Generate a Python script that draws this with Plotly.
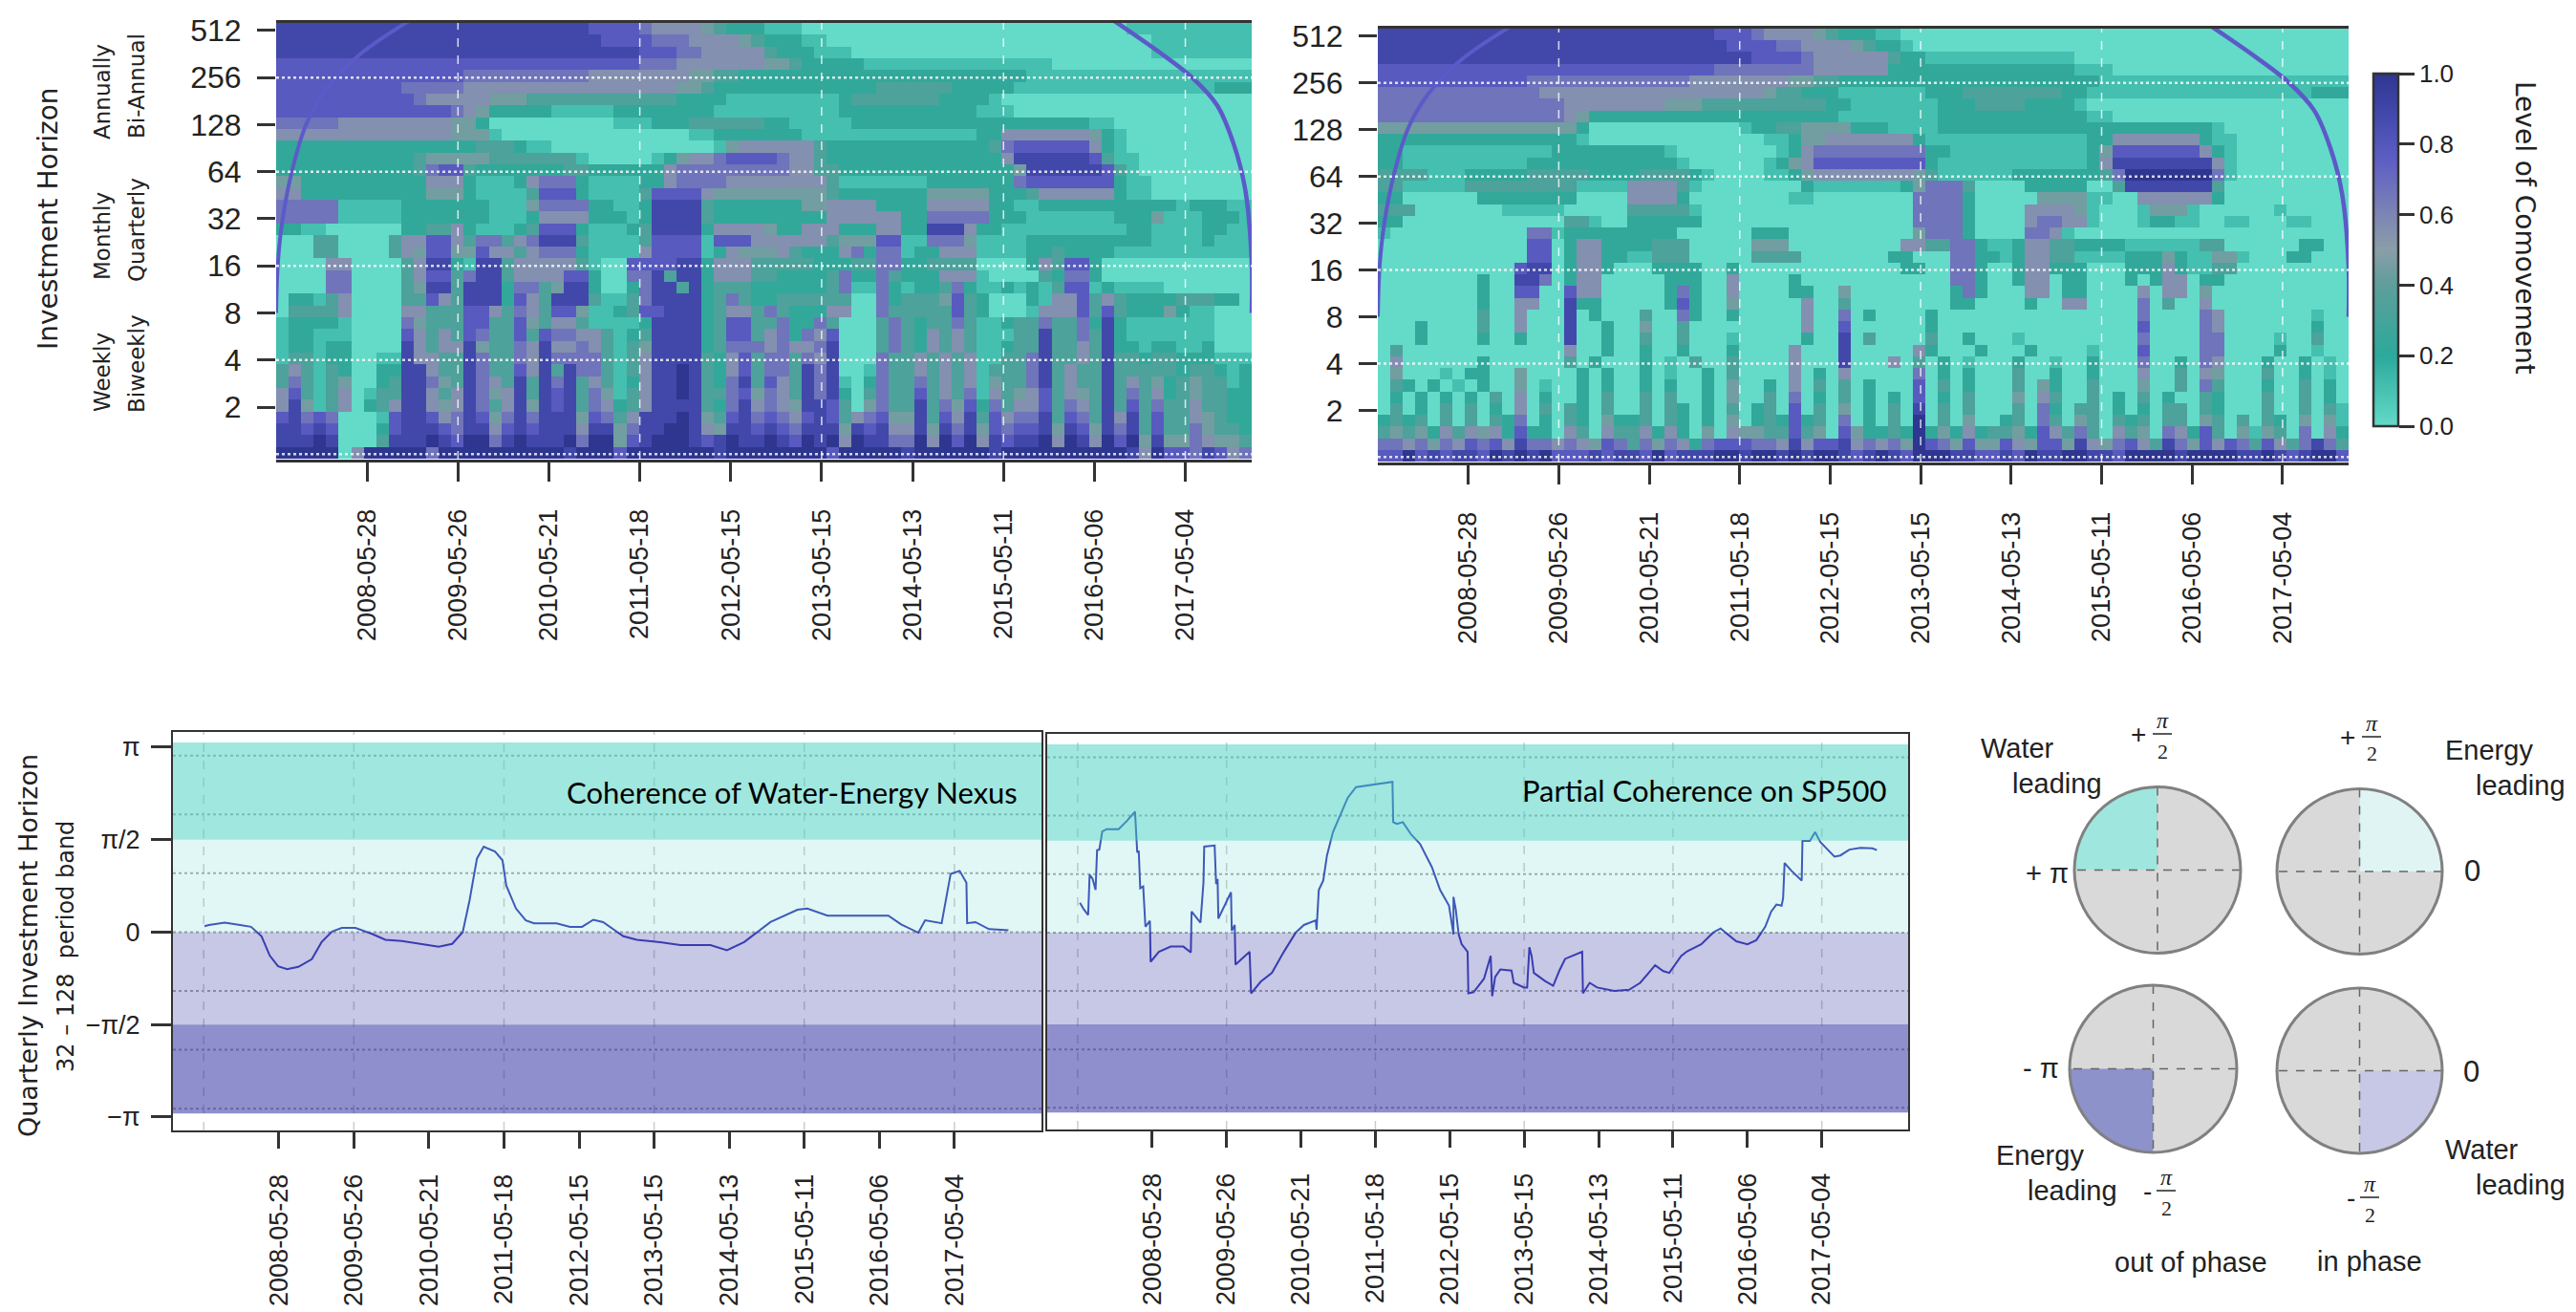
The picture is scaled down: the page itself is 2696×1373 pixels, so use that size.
import numpy as np
import plotly.graph_objects as go
from plotly.subplots import make_subplots

W, H = 2696, 1373

TICK_POS = [1, 2, 3, 4, 5, 6, 7, 8, 9, 10]
TICK_LABELS = ['2008-05-28', '2009-05-26', '2010-05-21', '2011-05-18', '2012-05-15',
               '2013-05-15', '2014-05-13', '2015-05-11', '2016-05-06', '2017-05-04']
PERIOD_LOG2 = [1, 2, 3, 4, 5, 6, 7, 8, 9]
PERIOD_LABELS = ['2', '4', '8', '16', '32', '64', '128', '256', '512']
PHASE_LABELS = ['\u2212\u03c0', '\u2212\u03c0/2', '0', '\u03c0/2', '\u03c0']

# coherence, tenths-ish (digit / 9), top row first in blocks of 10 columns
COHERENCE_ROWS = [
    '8888888888 8888888888 8888877776 5555432221 1100000000 0000000000 0000000011 11111111',
    '8888888888 8888888888 8888887777 6665555432 2211000000 0000000000 0000000000 11111111',
    '8888888888 8888888888 8888888887 7766555553 2221110000 0000000000 0000000000 11111111',
    '7777777777 7777777777 7777777776 6655555554 4322222111 1111111111 1100000000 00000000',
    '7777777777 7777766666 6666655555 5554433222 2222222222 2222222222 1111111111 11111111',
    '7777777777 6666655555 5555555555 5544322222 2222222233 3333222221 1111111111 11111222',
    '7777777777 7655555444 3333333333 3322221111 1111123333 3332222100 0000000000 00000000',
    '7777777777 7777654222 2211111222 2222211111 1111122222 2222221110 0000000000 00000000',
    '6666655555 5555442000 0000000111 2223333332 2111112222 2222222222 2222211000 00000000',
    '5555555555 5555444100 0000000000 0001122222 2211111111 1111112255 5555542100 00000000',
    '2222222222 2222223332 1100000000 0000014555 5553222222 2222222367 7777752100 00000000',
    '2222222222 2344444333 3333100000 1245567777 6553222222 2222222258 8888873110 00000000',
    '2222222222 2367732222 2223322222 2566666666 6553322222 2222222224 8888887310 00000000',
    '4422222222 2255521112 5666211112 2566665555 5555311111 1122222226 7777777211 00000000',
    '5522222222 2244421111 3777211113 7777544444 4444322222 2244444222 3555555211 00000000',
    '6666611111 2222222111 4666622112 8888322222 2244555522 2255555221 1222222222 22122211',
    '6666611111 2222222111 2555522212 8888322222 2222555555 2266666222 1111111222 41112221',
    '2211000000 2233521112 3777211123 8888255554 2255522255 2288852211 1111111122 11112211',
    '0003300003 5577536635 6888311113 7777177755 5555344477 1166641111 2222222222 11112111',
    '0003300003 5477447553 5666211115 7777125444 5322256266 1225551111 2232222111 11111111',
    '0000550000 3588218835 5555310077 7788255533 3332223366 2233330000 2537720000 00000000',
    '0000660000 3577368835 5557720066 8388255533 2222362263 2225551000 0326620000 00000000',
    '0000660000 3488388826 6348820026 8838233322 2222361162 1223621121 2137712111 10000000',
    '0221350000 3375388827 5388831136 8888236322 3333330062 3334732000 2155735322 22333220',
    '0333350000 5533377536 5377411237 7888235536 3222550063 3333732000 1555737322 24211000',
    '1222210000 6433377337 4355311112 8888237733 6226300036 3233631123 3633628211 11111000',
    '1221110000 7535376337 3766553123 8888237735 6265700036 3253531113 3833638211 11111000',
    '1221220000 8535584336 5855653134 8888236665 6556800036 3253531123 3833538221 22112000',
    '1331220011 8553386336 5866663135 8888325736 6365800063 3535351133 6833538332 33222111',
    '3531320022 8853386337 5838663135 8898325736 6386800163 3535351333 6835338333 33233212',
    '3631340023 8864386538 3868353125 8898326837 5386810263 3635351433 6835338353 42343312',
    '5731350133 8853586458 3878364135 8898336746 5386820363 3735361534 5735438363 52343322',
    '5841350235 8854586358 4878365235 8888326856 5488730463 3836472635 5736538373 63353322',
    '7867600017 8875687468 6888476358 8898437867 6578735674 4837583756 6837638583 73354322',
    '8878700027 8887688578 7888588468 8998548878 7688848785 5848684767 7848748683 73364332',
    '8889800038 8898799689 8889699478 9998789889 8798959886 6959795878 8959859794 84465443',
    '9999905999 9969999999 9998999799 9999989999 9999799999 8999999899 9999999985 97768756',
]

PARTIAL_ROWS = [
    '8888888888 8888888888 8888888777 6555543222 1100000000 0000000000 0000000000 00000000',
    '8888888888 8888888888 8888888877 7766555543 2210000000 0000000000 0000000000 00000000',
    '8888888888 8888888888 8888888888 7777655555 5322111111 1111110000 0000000000 00000000',
    '7777777777 7777777777 7777777666 6666655555 5222222222 2222221110 0000000000 00000000',
    '7777777777 7766666666 6666655555 5554433222 2222222222 2222222211 1111111111 11111111',
    '6666666666 6665555555 5555555555 5433222111 1111222333 3333322111 1111111111 11111222',
    '6666666666 6666655555 5554443333 3333332211 1111122233 3322221000 0000000000 00000000',
    '6666666666 6666654222 2222222222 2222222111 1111122222 2222222110 0000000000 00000000',
    '4444444444 4444442000 0000000001 2233444422 2111122222 2222222222 2222222100 00000000',
    '2222222222 2222221000 0000000000 0112445555 5552111111 1111111225 5555552110 00000000',
    '2211111111 1111222222 2221000000 0012566666 6666221111 1111111247 7777775210 00000000',
    '2211111111 1122222222 2222100000 0124577777 7777211111 1111111258 8888888510 00000000',
    '3333111222 2233333222 2333321000 0112455555 5554311111 1222222236 9999999610 00000000',
    '3311111333 3333331111 5555310000 0000211111 1124666300 0022222003 8888888300 00000000',
    '2200000022 2222220000 5555200000 0001100000 0006666200 0004444110 0555555200 00000000',
    '3330000000 1111100000 3333310000 0000000000 0006666200 0055554100 0144410000 00100000',
    '2200000000 0000033100 2222220000 0000000000 0006666200 0056655100 0122110011 00011000',
    '1000000000 0066122222 2222000000 2220000000 0004666200 0066510000 0000000000 00000000',
    '0000000000 0077025522 2233300000 4440000000 0055336621 1255332222 1111113300 00002200',
    '0000000000 0077025522 1133300000 3333000000 0220006622 1255331111 2224211441 00022000',
    '0000000000 0788025520 0022220020 0000000000 0022006620 0255222000 2225211330 00000000',
    '0000000020 0886025500 0002220050 0002000000 0000006620 0255022000 2025502200 00000000',
    '0000000020 0770075500 0002620050 0002200400 0000002620 0055022000 0505504000 00000000',
    '0000000020 0550082200 0002720040 0000500300 0000002200 0020055000 0603005000 00000000',
    '0000000030 0500080200 0300620020 0000500602 0000200000 0000000000 0600006500 00000100',
    '0002000030 0500080020 0400300000 0000500700 0000200000 0000000000 0700006500 00000200',
    '0002000020 0200080020 0300300010 0000200803 0000300200 0100000000 0600006600 00100300',
    '0300000000 0000050020 0200200020 0005000800 0005200020 0020000100 0700006600 00200100',
    '0500000020 0000030200 0201030030 0005000800 0503020100 0200100200 0600206500 02002010',
    '0400010220 0400002020 0201002030 0005020500 0006020200 0300200200 0500305400 03002010',
    '0320201020 0401002020 0202002040 0205030302 0007030200 0304200300 0400306300 02003020',
    '0202020203 0502002030 0303002040 0306020302 0207020300 0405300302 0302003200 03003020',
    '0302030302 0503032030 0303202030 2307030402 0308030300 0306203302 0203303200 03003031',
    '2323030303 2602032042 2303202040 2327230602 0309030400 2306304303 2303304303 03204041',
    '3434253545 2722053053 3525204054 4337340742 2329242523 3427536305 3406527304 14306052',
    '6656465767 5866565476 3646526777 6658577856 5649764744 7547748546 7538647576 37536863',
    '7797878879 8989777878 8797888998 9989899878 9879998877 8798899887 9999899998 89878997',
]

COI_LEFT_T = [0.0, 0.02, 0.07, 0.18, 0.34, 0.56, 0.92, 1.46]
COI_LEFT_LOG2 = [3.0, 4.08, 4.98, 6.06, 7.05, 7.77, 8.49, 9.2]
COI_RIGHT_T = [9.22, 9.72, 10.08, 10.35, 10.53, 10.66, 10.73, 10.73]
COI_RIGHT_LOG2 = [9.2, 8.53, 7.99, 7.41, 6.6, 5.61, 4.08, 3.0]

NEXUS_T = [0.01, 0.07, 0.28, 0.46, 0.63, 0.77, 0.88, 0.99, 1.11, 1.26, 1.44, 1.57, 1.71, 1.84, 2.02,
           2.24, 2.42, 2.64, 2.91, 3.13, 3.31, 3.45, 3.54, 3.64, 3.73, 3.88, 3.98, 4.03, 4.16, 4.29,
           4.40, 4.70, 4.88, 5.04, 5.19, 5.32, 5.59, 5.77, 6.08, 6.35, 6.75, 6.97, 7.20, 7.55, 7.91,
           8.04, 8.31, 9.12, 9.29, 9.52, 9.61, 9.83, 9.95, 10.07, 10.16, 10.17, 10.28, 10.46, 10.72]
NEXUS_PHASE = [0.10, 0.12, 0.16, 0.13, 0.09, -0.07, -0.40, -0.58, -0.63, -0.59, -0.46, -0.17, 0.01, 0.07, 0.07,
               -0.03, -0.13, -0.15, -0.20, -0.25, -0.20, 0.00, 0.53, 1.25, 1.45, 1.37, 1.22, 0.79, 0.40, 0.20,
               0.15, 0.15, 0.09, 0.09, 0.21, 0.17, -0.07, -0.13, -0.17, -0.22, -0.22, -0.31, -0.17, 0.17, 0.38,
               0.40, 0.28, 0.28, 0.13, -0.01, 0.20, 0.15, 0.99, 1.04, 0.84, 0.15, 0.17, 0.05, 0.03]

PARTIAL_T = [0.03, 0.08, 0.14, 0.16, 0.20, 0.24, 0.26, 0.29, 0.33, 0.39, 0.55, 0.66, 0.77, 0.80, 0.82, 0.84,
             0.88, 0.91, 0.97, 0.98, 1.09, 1.25, 1.42, 1.52, 1.53, 1.65, 1.69, 1.70, 1.84, 1.86, 1.88, 1.89,
             2.06, 2.07, 2.11, 2.12, 2.31, 2.33, 2.46, 2.61, 2.77, 2.93, 3.04, 3.20, 3.21, 3.24, 3.30, 3.35,
             3.43, 3.63, 3.74, 3.98, 4.23, 4.24, 4.29, 4.37, 4.48, 4.60, 4.76, 4.87, 4.99, 5.05, 5.05, 5.08,
             5.12, 5.16, 5.24, 5.25, 5.32, 5.46, 5.55, 5.57, 5.61, 5.68, 5.83, 5.86, 6.00, 6.04, 6.07, 6.10,
             6.13, 6.28, 6.39, 6.47, 6.55, 6.78, 6.79, 6.88, 6.98, 7.21, 7.41, 7.56, 7.76, 7.87, 7.95, 8.11,
             8.19, 8.38, 8.54, 8.64, 8.73, 8.85, 9.00, 9.12, 9.24, 9.32, 9.39, 9.46, 9.48, 9.50, 9.59, 9.73,
             9.74, 9.84, 9.91, 9.98, 10.17, 10.25, 10.37, 10.52, 10.68, 10.74]
PARTIAL_PHASE = [0.51, 0.40, 0.30, 0.99, 0.92, 0.73, 1.41, 1.42, 1.73, 1.77, 1.77, 1.91, 2.07, 1.37, 1.40, 0.76,
                 0.79, 0.10, 0.20, -0.50, -0.33, -0.24, -0.24, -0.34, 0.36, 0.17, 0.86, 1.47, 1.49, 0.83, 0.92, 0.24,
                 0.69, 0.03, 0.13, -0.55, -0.33, -1.04, -0.84, -0.69, -0.33, 0.00, 0.13, 0.21, 0.05, 0.73, 0.89, 1.32,
                 1.72, 2.31, 2.49, 2.54, 2.58, 1.89, 1.86, 1.89, 1.68, 1.52, 1.12, 0.73, 0.46, -0.03, 0.61, 0.40,
                 -0.03, -0.20, -0.33, -1.04, -1.02, -0.79, -0.40, -1.09, -0.76, -0.63, -0.65, -0.86, -0.94, -0.94, -0.25, -0.40,
                 -0.69, -0.83, -0.91, -0.66, -0.45, -0.33, -1.04, -0.86, -0.94, -1.00, -0.98, -0.86, -0.56, -0.66, -0.69, -0.40,
                 -0.32, -0.20, 0.00, 0.07, -0.03, -0.15, -0.20, -0.13, 0.10, 0.36, 0.48, 0.46, 0.59, 1.19, 1.06, 0.89,
                 1.57, 1.57, 1.72, 1.55, 1.30, 1.32, 1.42, 1.45, 1.44, 1.41]

COMOVE_SCALE = [[0.0, '#64DAC8'], [0.2, '#2CA99B'], [0.4, '#5E9E9B'], [0.5, '#8A9EA8'], [0.6, '#7D85B4'],
                [0.75, '#5E5FC4'], [0.9, '#3F46A8'], [1.0, '#2E3690']]
SANS = 'Liberation Sans'
WIDE = 'DejaVu Sans'
INK = '#222222'


def fx(px):
    return px / W


def fy(py):
    return 1 - py / H


def decode(rows):
    grid = [[int(c) / 9 for c in r.replace(' ', '')] for r in rows]
    return grid[::-1]


fig = make_subplots(rows=2, cols=2)

cells = [(1, 1, 289, 1310, 24, 481), (1, 2, 1442, 2458, 30, 484), (2, 1, 181, 1090, 766, 1183), (2, 2, 1096, 1997, 768, 1182)]
for row, col, x0, x1, y0, y1 in cells:
    fig.update_xaxes(domain=[fx(x0), fx(x1)], row=row, col=col)
    fig.update_yaxes(domain=[fy(y1), fy(y0)], row=row, col=col)

# top: wavelet coherence
for col, rows_data in ((1, COHERENCE_ROWS), (2, PARTIAL_ROWS)):
    z = decode(rows_data)
    n_cols = len(z[0])
    dt = 10.73 / n_cols
    fig.add_trace(go.Heatmap(
        z=z,
        x=(np.arange(n_cols) + 0.5) * dt,
        y=9.035 - 0.25 * np.arange(len(z))[::-1],
        zmin=0, zmax=1,
        zsmooth=False,
        colorscale=COMOVE_SCALE,
        showscale=col == 2,
        colorbar=dict(
            x=fx(2484), xanchor='left', xpad=0, ypad=0,
            y=fy(446), yanchor='bottom', len=(446 - 77) / H,
            thickness=26, thicknessmode='pixels',
            tickvals=[0, 0.2, 0.4, 0.6, 0.8, 1.0], ticktext=['0.0', '0.2', '0.4', '0.6', '0.8', '1.0'],
            ticks='outside', ticklen=16, tickwidth=2.5, tickcolor='#333333',
            tickfont=dict(family=SANS, size=26, color=INK),
            outlinecolor='#333333', outlinewidth=2.5,
        ),
    ), row=1, col=col)
    fig.add_trace(go.Scatter(x=COI_LEFT_T, y=COI_LEFT_LOG2, mode='lines', showlegend=False,
                             line=dict(color='#5C5AC8', width=4, shape='spline')), row=1, col=col)
    fig.add_trace(go.Scatter(x=COI_RIGHT_T, y=COI_RIGHT_LOG2, mode='lines', showlegend=False,
                             line=dict(color='#5C5AC8', width=4.5, shape='spline')), row=1, col=col)
    fig.update_xaxes(range=[0, 10.73], tickmode='array', tickvals=TICK_POS, ticktext=TICK_LABELS,
                     tickangle=-90, ticks='outside', ticklen=20, tickwidth=2.5, tickcolor='#333333',
                     tickfont=dict(family=SANS, size=27, color=INK), ticklabelstandoff=18,
                     showgrid=False, zeroline=False, showline=True, mirror=True,
                     linecolor='#333333', linewidth=3, row=1, col=col)
    fig.update_yaxes(range=[-0.115, 9.16], tickmode='array', tickvals=PERIOD_LOG2, ticktext=PERIOD_LABELS,
                     ticks='outside', ticklen=19, tickwidth=2.5, tickcolor='#333333',
                     tickfont=dict(family=SANS, size=32, color=INK), ticklabelstandoff=10,
                     showgrid=False, zeroline=False, showline=False, row=1, col=col)
    for k in (0, 2, 4, 6, 8):
        fig.add_hline(y=k, line=dict(color='rgba(255,255,255,0.8)', width=2.5, dash='dot'), row=1, col=col)
    for k in (2, 4, 6, 8, 10):
        fig.add_vline(x=k, line=dict(color='rgba(255,255,255,0.8)', width=1.5, dash='dash'), row=1, col=col)

# bottom: phase over the 32-128 band
BAND_EDGES = [3.22, np.pi / 2, 0, -np.pi / 2, -3.08]
BAND_COLORS = ['rgba(64,208,192,0.5)', 'rgba(64,208,192,0.16)', 'rgba(40,40,160,0.26)', 'rgba(40,40,160,0.52)']
for col, t, phase in ((1, NEXUS_T, NEXUS_PHASE), (2, PARTIAL_T, PARTIAL_PHASE)):
    fig.add_trace(go.Scatter(x=t, y=phase, mode='lines', showlegend=False,
                             line=dict(color='#3F45B8', width=2)), row=2, col=col)
    fig.update_xaxes(range=[-0.41, 11.16], tickmode='array', tickvals=TICK_POS, ticktext=TICK_LABELS,
                     tickangle=-90, ticks='outside', ticklen=17, tickwidth=2.5, tickcolor='#333333',
                     tickfont=dict(family=SANS, size=27, color=INK), ticklabelstandoff=16,
                     showgrid=False, zeroline=False, showline=True, mirror=True,
                     linecolor='#333333', linewidth=2, row=2, col=col)
    fig.update_yaxes(range=[-3.37, 3.40], showgrid=False, zeroline=False, showline=True, mirror=True,
                     linecolor='#333333', linewidth=2, row=2, col=col)
    for k in (-3, -2, -1, 0, 1, 2, 3):
        fig.add_hline(y=k, layer='below', line=dict(color='#aaaaaa', width=2, dash='dot'), row=2, col=col)
    for k in (0, 2, 4, 6, 8, 10):
        fig.add_vline(x=k, layer='below', line=dict(color='#cccccc', width=1.5, dash='dash'), row=2, col=col)
    for i, c in enumerate(BAND_COLORS):
        fig.add_hrect(y0=BAND_EDGES[i + 1], y1=BAND_EDGES[i], fillcolor=c, line_width=0, layer='above', row=2, col=col)
fig.update_yaxes(tickmode='array', tickvals=[-np.pi, -np.pi / 2, 0, np.pi / 2, np.pi], ticktext=PHASE_LABELS,
                 ticks='outside', ticklen=21, tickwidth=2.5, tickcolor='#333333',
                 tickfont=dict(family=SANS, size=27, color=INK), ticklabelstandoff=6, row=2, col=1)
fig.update_yaxes(showticklabels=False, ticks='', row=2, col=2)

# phase quadrant key
QUADRANTS = [
    ('polar', (2171, 2345, 821, 1000), ['#D9D9D9', '#9FE6DE', '#D9D9D9', '#D9D9D9']),
    ('polar2', (2383, 2556, 823, 1001), ['#E0F5F3', '#D9D9D9', '#D9D9D9', '#D9D9D9']),
    ('polar3', (2166, 2341, 1030, 1207), ['#D9D9D9', '#D9D9D9', '#8E92CA', '#D9D9D9']),
    ('polar4', (2383, 2556, 1032, 1209), ['#D9D9D9', '#D9D9D9', '#D9D9D9', '#C6C8E6']),
]
for name, (x0, x1, y0, y1), colors in QUADRANTS:
    fig.add_trace(go.Barpolar(r=[1, 1, 1, 1], theta=[45, 135, 225, 315], width=[90, 90, 90, 90],
                              marker=dict(color=colors, line=dict(width=0)), subplot=name, showlegend=False))
    fig.add_trace(go.Scatterpolar(r=[1, 0, 1, None, 1, 0, 1], theta=[0, 0, 180, None, 90, 90, 270], mode='lines',
                                  line=dict(color='#666666', width=1.5, dash='dash'), subplot=name, showlegend=False))
    fig.update_layout({name: dict(
        domain=dict(x=[fx(x0), fx(x1)], y=[fy(y1), fy(y0)]),
        bgcolor='#D9D9D9',
        radialaxis=dict(visible=False, range=[0, 1]),
        angularaxis=dict(showgrid=False, showticklabels=False, ticks='', showline=True,
                         linecolor='#808080', linewidth=3),
    )})


def label(text, x, y, size=29, family=SANS, anchor='left', angle=0, color=INK):
    fig.add_annotation(text=text, x=fx(x), y=fy(y), xref='paper', yref='paper', showarrow=False,
                       xanchor=anchor, yanchor='middle', textangle=angle, align='center',
                       font=dict(family=family, size=size, color=color))


# rotated axis captions
label('Investment Horizon', 51, 229, size=28, family=WIDE, anchor='center', angle=-90)
label('Annually', 107, 96, size=23, family=WIDE, anchor='center', angle=-90)
label('Bi-Annual', 143, 90, size=23, family=WIDE, anchor='center', angle=-90)
label('Monthly', 107, 247, size=23, family=WIDE, anchor='center', angle=-90)
label('Quarterly', 143, 241, size=23, family=WIDE, anchor='center', angle=-90)
label('Weekly', 107, 390, size=23, family=WIDE, anchor='center', angle=-90)
label('Biweekly', 143, 381, size=23, family=WIDE, anchor='center', angle=-90)
label('Level of Comovement', 2643, 238, size=28, family=WIDE, anchor='center', angle=90)
label('Quarterly Investment Horizon', 29, 990, size=27, family=WIDE, anchor='center', angle=-90)
label('32 \u2013 128  period band', 69, 991, size=24, family=WIDE, anchor='center', angle=-90)

label('Coherence of Water-Energy Nexus', 1067, 829, size=31, family='Lato', anchor='right', color='#000000')
label('Partial Coherence on SP500', 1977, 827, size=31, family='Lato', anchor='right', color='#000000')

# quadrant key captions
label('Water', 2071, 783)
label('leading', 2104, 820)
label('+ \u03c0', 2118, 914)
label('Energy', 2557, 785)
label('leading', 2589, 822)
label('0', 2587, 911, size=31, anchor='center')
label('- \u03c0', 2115, 1118)
label('Energy', 2087, 1209)
label('leading', 2120, 1246)
label('0', 2586, 1121, size=31, anchor='center')
label('Water', 2557, 1203)
label('leading', 2589, 1240)
label('out of phase', 2211, 1321)
label('in phase', 2423, 1320)

FRACTIONS = [('+', 2238, 2263, 768), ('+', 2457, 2482, 771), ('-', 2247, 2267, 1246), ('-', 2460, 2480, 1253)]
for sign, sx, cx, bar_y in FRACTIONS:
    label(sign, sx, bar_y, size=28, anchor='center')
    label('<i>\u03c0</i>', cx, bar_y - 14, size=24, family='Liberation Serif', anchor='center')
    label('2', cx, bar_y + 18, size=22, family='Liberation Serif', anchor='center')
    fig.add_shape(type='line', xref='paper', yref='paper', x0=fx(cx - 10), x1=fx(cx + 10), y0=fy(bar_y), y1=fy(bar_y),
                  line=dict(color=INK, width=1.5))

fig.update_layout(width=W, height=H, margin=dict(l=0, r=0, t=0, b=0, autoexpand=False), showlegend=False,
                  paper_bgcolor='white', plot_bgcolor='white', font=dict(family=SANS))

fig.write_html('out.html', config={'displayModeBar': False},
               post_script="document.body.style.margin='0';document.body.style.overflow='hidden';")
